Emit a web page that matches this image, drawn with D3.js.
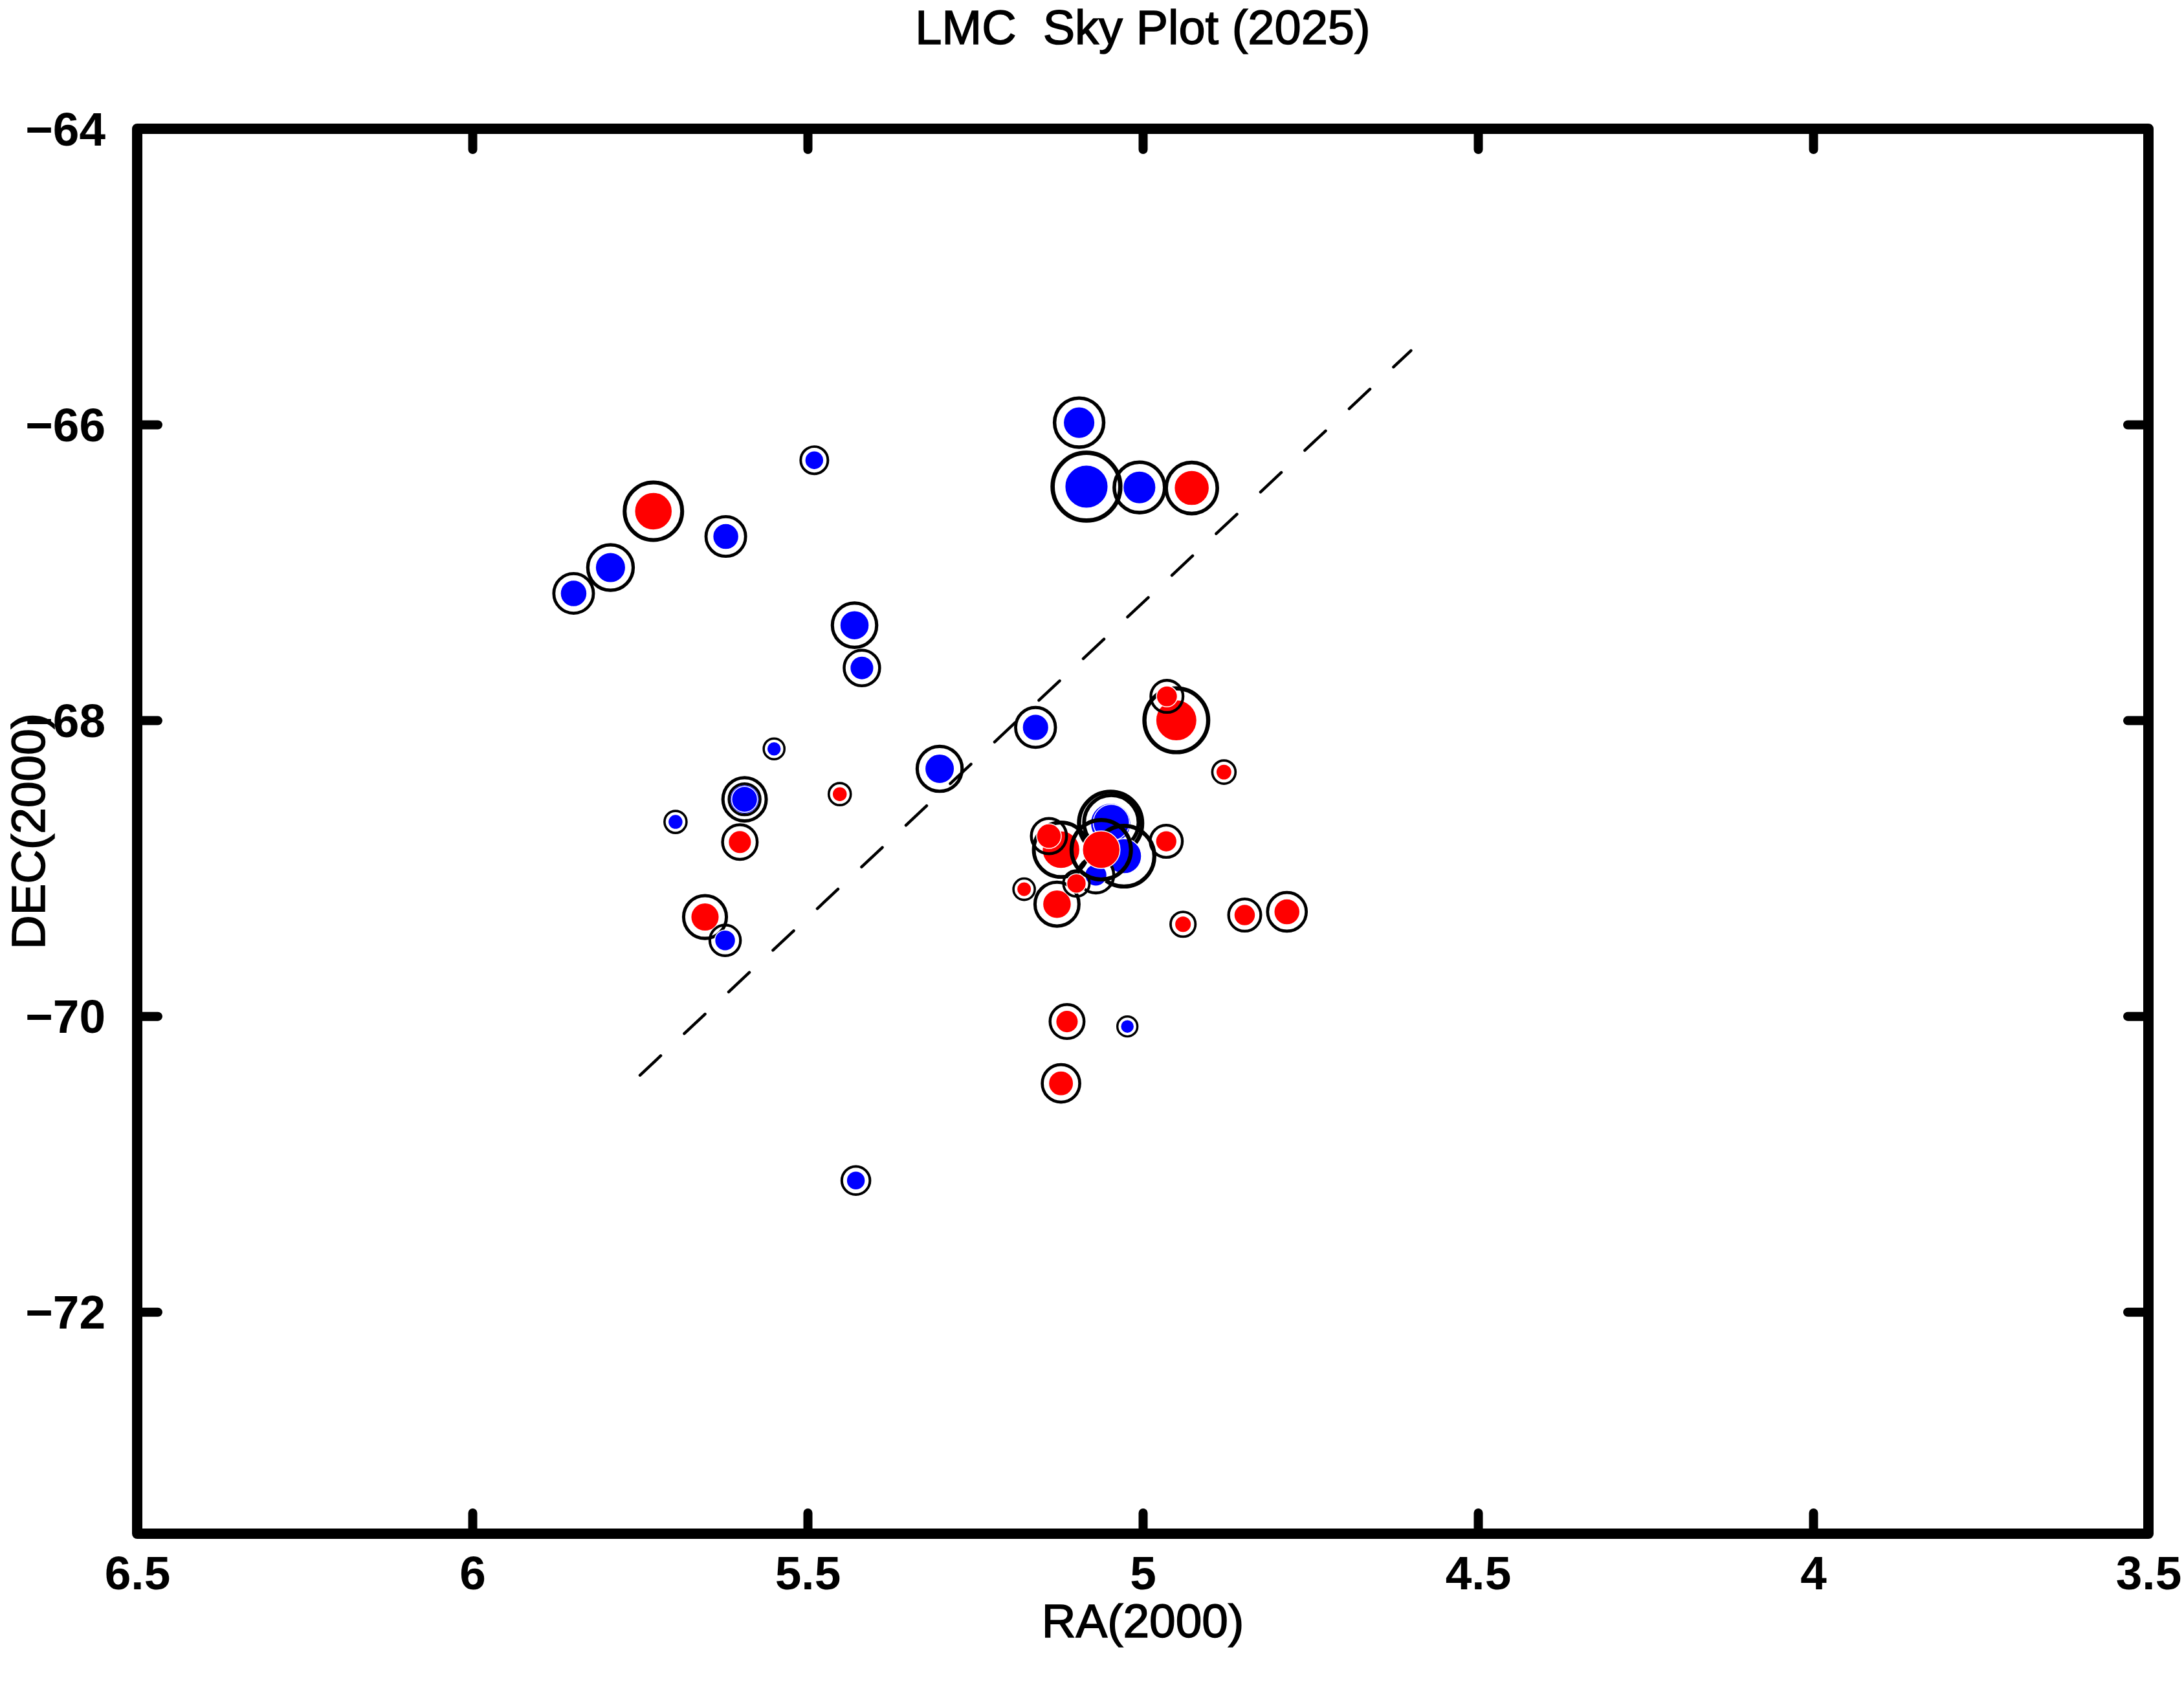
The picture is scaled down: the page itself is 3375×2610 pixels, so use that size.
<!DOCTYPE html>
<html><head><meta charset="utf-8">
<script src="https://cdn.jsdelivr.net/npm/d3@7"></script>
<style>html,body{margin:0;padding:0;background:#fff;} svg{display:block}</style>
</head><body><svg id="chart" width="3375" height="2610"></svg>
<script>
// ---- data ----
const raTicks  = [6.5, 6, 5.5, 5, 4.5, 4, 3.5];
const decTicks = [-64, -66, -68, -70, -72];
const titleText = "LMC  Sky Plot (2025)";
const xLabel = "RA(2000)";
const yLabel = "DEC(2000)";

// objects (RA hours, DEC deg), type R=red / B=blue, dot and ring sizes (arbitrary units)
const ra   = [5.730, 5.490, 5.622, 5.794, 5.849, 5.430, 5.419, 5.095, 5.084, 5.005, 4.927,
              4.950, 4.964, 4.879, 4.965, 4.940, 4.848, 4.785, 5.177, 5.128, 5.113, 5.023,
              5.122, 5.428, 5.303, 5.160, 5.550, 5.594, 5.594, 5.452, 5.697, 5.601, 5.653,
              5.623, 5.048, 5.047, 5.028, 5.070, 5.122, 5.140, 5.099, 5.062];
const dec  = [-66.586, -66.241, -66.757, -66.967, -67.142, -67.357, -67.646, -65.987, -66.420, -66.425, -66.429,
              -68.000, -67.838, -68.350, -68.818, -69.379, -69.317, -69.295, -69.142, -69.243, -70.037, -70.070,
              -70.455, -71.112, -68.328, -68.048, -68.193, -68.534, -68.534, -68.499, -68.687, -68.823, -69.330,
              -69.488, -68.696, -68.691, -68.919, -69.046, -68.875, -68.783, -69.103, -68.875];
const kind = ["R","B","B","B","B","B","B","B","B","B","R",
              "R","R","R","R","R","R","R","R","R","R","B",
              "R","B","B","B","B","B","B","R","B","R","R",
              "B","B","B","B","B","R","R","R","R"];
const dotSize  = [2.90, 1.45, 2.00, 2.33, 2.05, 2.25, 1.83, 2.43, 3.33, 2.53, 2.70,
                  3.17, 1.62, 1.22, 1.64, 1.28, 1.65, 2.00, 1.13, 2.20, 1.73, 1.05,
                  1.92, 1.45, 2.27, 2.03, 1.10, 2.25, 2.00, 1.15, 1.15, 1.78, 2.18,
                  1.60, 3.10, 2.80, 2.70, 1.70, 2.90, 1.90, 1.50, 2.90];
const ringSize = [4.75, 2.30, 3.30, 3.77, 3.30, 3.68, 2.97, 4.07, 5.57, 4.17, 4.23,
                  5.25, 2.70, 1.98, 2.70, 2.11, 2.70, 3.23, 1.83, 3.65, 2.85, 1.72,
                  3.13, 2.38, 3.73, 3.32, 1.78, 3.60, 2.62, 1.88, 1.88, 2.90, 3.56,
                  2.58, 5.20, 4.50, 5.00, 3.00, 4.50, 2.95, 2.20, 4.90];

// dashed reference line
const lineRA  = [5.75, 4.60];
const lineDEC = [-70.40, -65.50];

// ---- chart ----
const svg = d3.select("#chart");
const x = d3.scaleLinear().domain([6.5, 3.5]).range([212, 3320]);
const y = d3.scaleLinear().domain([-64, -73.5]).range([199, 2370]);
const s = d3.scaleLinear().domain([0, 1]).range([0, 10]);
const colour = d3.scaleOrdinal().domain(["R","B"]).range(["#ff0000", "#0000ff"]);

const FONT = "'Liberation Sans', Arial, sans-serif";

// dashed line
svg.append("path")
  .datum(lineRA.map((r, i) => [r, lineDEC[i]]))
  .attr("d", d3.line().x(d => x(d[0])).y(d => y(d[1])))
  .attr("fill", "none").attr("stroke", "#000").attr("stroke-width", 4.5)
  .attr("stroke-dasharray", "44,50").attr("stroke-linecap", "round");

// points
const pts = ra.map((r, i) => ({ra: r, dec: dec[i], k: kind[i], d: dotSize[i], g: ringSize[i]}));
const pg = svg.append("g").selectAll("g").data(pts).join("g")
  .attr("transform", p => `translate(${x(p.ra)},${y(p.dec)})`);
pg.append("circle").attr("r", p => s(p.d)).attr("fill", p => colour(p.k))
  .attr("stroke", "#fff").attr("stroke-width", 1.5);
pg.append("circle")
  .attr("r", p => { const R = s(p.g); const w = 2 + 0.085 * R; return R - w / 2; })
  .attr("fill", "none").attr("stroke", "#000")
  .attr("stroke-width", p => 2 + 0.085 * s(p.g));

// axes
function styleAxis(g) {
  g.select(".domain").remove();
  g.selectAll(".tick line").attr("stroke", "#000").attr("stroke-width", 14).attr("stroke-linecap", "round");
  g.selectAll(".tick text").attr("fill", "#000").style("font-family", FONT)
    .style("font-size", "73px").style("font-weight", "bold");
  g.attr("font-family", null).attr("font-size", null);
}
const gBottom = svg.append("g").attr("transform", `translate(0,${y(-73.5)})`)
  .call(d3.axisBottom(x).tickValues(raTicks).tickFormat(d3.format("~g"))
        .tickSizeInner(-32).tickSizeOuter(0).tickPadding(86)).call(styleAxis);
gBottom.selectAll(".tick text").attr("dy", "0");
svg.append("g").attr("transform", `translate(0,${y(-64)})`)
  .call(d3.axisTop(x).tickValues(raTicks).tickFormat(() => "")
        .tickSizeInner(-32).tickSizeOuter(0)).call(styleAxis);
const gLeft = svg.append("g").attr("transform", `translate(${x(6.5)},0)`)
  .call(d3.axisLeft(y).tickValues(decTicks).tickFormat(d3.format("d"))
        .tickSizeInner(-32).tickSizeOuter(0).tickPadding(49)).call(styleAxis);
gLeft.selectAll(".tick text").attr("dy", "25");
svg.append("g").attr("transform", `translate(${x(3.5)},0)`)
  .call(d3.axisRight(y).tickValues(decTicks).tickFormat(() => "")
        .tickSizeInner(-32).tickSizeOuter(0)).call(styleAxis);

// frame
svg.append("rect")
  .attr("x", x(6.5)).attr("y", y(-64))
  .attr("width", x(3.5) - x(6.5)).attr("height", y(-73.5) - y(-64))
  .attr("fill", "none").attr("stroke", "#000").attr("stroke-width", 16)
  .attr("stroke-linejoin", "round");

// texts
const cx = (x(6.5) + x(3.5)) / 2, cy = (y(-64) + y(-73.5)) / 2;
function labelStyle(t) {
  t.style("font-family", FONT).style("font-size", "73px")
   .attr("stroke", "#000").attr("stroke-width", 1.5).attr("fill", "#000");
}
svg.append("text").attr("x", cx).attr("y", 68).attr("text-anchor", "middle")
  .call(labelStyle).style("font-size", "74px").style("white-space", "pre")
  .text(titleText);
svg.append("text").attr("x", cx).attr("y", 2530).attr("text-anchor", "middle")
  .call(labelStyle).text(xLabel);
svg.append("text").attr("transform", `translate(69,${cy}) rotate(-90)`).attr("text-anchor", "middle")
  .call(labelStyle).text(yLabel);
</script>
</body></html>
